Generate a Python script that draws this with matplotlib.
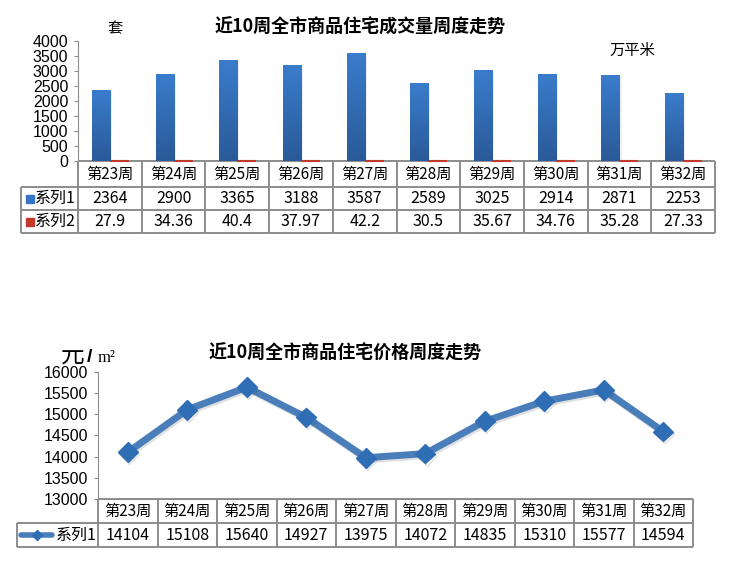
import matplotlib
matplotlib.use('Agg')
import matplotlib.pyplot as plt
from matplotlib import transforms
from matplotlib.patches import Rectangle
from matplotlib.colors import LinearSegmentedColormap
import matplotlib.patheffects as pe
import numpy as np

# ---------------- data ----------------
weeks = ['第23周', '第24周', '第25周', '第26周', '第27周',
         '第28周', '第29周', '第30周', '第31周', '第32周']
units = [2364, 2900, 3365, 3188, 3587, 2589, 3025, 2914, 2871, 2253]
area = [27.9, 34.36, 40.4, 37.97, 42.2, 30.5, 35.67, 34.76, 35.28, 27.33]
prices = [14104, 15108, 15640, 14927, 13975, 14072, 14835, 15310, 15577, 14594]
series_names = ['系列1', '系列2']
top_title = '近10周全市商品住宅成交量周度走势'
bottom_title = '近10周全市商品住宅价格周度走势'
top_ticks = list(range(0, 4001, 500))
bottom_ticks = list(range(13000, 16001, 500))

CJK = ['Noto Sans CJK SC', 'DejaVu Sans']
NUM = ['Liberation Sans', 'Noto Sans CJK SC', 'DejaVu Sans']
plt.rcParams['font.family'] = CJK

W, H = 735, 571
fig = plt.figure(figsize=(W / 100, H / 100), dpi=100)
fig.patch.set_facecolor('white')

GRID = '#8c8c8c'
BLUE = '#3674c4'
RED = '#c0392b'


def px_ax(left, top, right, bottom):
    return fig.add_axes([left / W, 1 - bottom / H, (right - left) / W, (bottom - top) / H])


def style_axis(ax, ticks, ylim):
    ax.set_xlim(-0.5, 9.5)
    ax.set_ylim(*ylim)
    ax.set_yticks(ticks)
    ax.set_xticks([])
    for s in ['top', 'right']:
        ax.spines[s].set_visible(False)
    ax.spines['left'].set_color(GRID)
    ax.spines['bottom'].set_color(GRID)
    ax.tick_params(axis='y', direction='out', length=3, color=GRID, pad=4,
                   labelsize=11.5)
    for lab in ax.get_yticklabels():
        lab.set_family(NUM)


def draw_table(ax, ax_h_px, cat_w_px, label_w_px, row_h_px, col_labels, rows, legend_kind):
    tr = transforms.blended_transform_factory(ax.transData, ax.transAxes)
    n = len(col_labels)
    label_left = -0.5 - label_w_px / cat_w_px
    ys = [0]
    for h in row_h_px:
        ys.append(ys[-1] - h / ax_h_px)
    kw = dict(transform=tr, clip_on=False, color=GRID, lw=1.4, solid_capstyle='butt',
              zorder=1.5)
    ax.plot([-0.5, n - 0.5], [ys[0], ys[0]], **kw)
    for y in ys[1:]:
        ax.plot([label_left, n - 0.5], [y, y], **kw)
    for k in range(n + 1):
        ax.plot([-0.5 + k, -0.5 + k], [ys[0], ys[-1]], **kw)
    ax.plot([label_left, label_left], [ys[1], ys[-1]], **kw)
    ymid = (ys[0] + ys[1]) / 2
    for i, c in enumerate(col_labels):
        ax.text(i, ymid, c, transform=tr, ha='center', va='center', fontsize=11,
                family=CJK, clip_on=False)
    for r, (name, vals, color) in enumerate(rows):
        ymid = (ys[r + 1] + ys[r + 2]) / 2
        for i, v in enumerate(vals):
            ax.text(i, ymid, str(v), transform=tr, ha='center', va='center',
                    fontsize=11.5, family=CJK, clip_on=False)
        if legend_kind == 'square':
            mx = -0.5 - (label_w_px - 9) / cat_w_px
            ax.plot([mx], [ymid], marker='s', ms=5.5, color=color, transform=tr,
                    clip_on=False, mec=color)
            tx = -0.5 - (label_w_px - 14) / cat_w_px
        else:
            x0 = -0.5 - (label_w_px - 4) / cat_w_px
            x1 = -0.5 - (label_w_px - 35) / cat_w_px
            ax.plot([x0, x1], [ymid, ymid], color='#4a7ebb', lw=4, transform=tr,
                    clip_on=False, solid_capstyle='round')
            ax.plot([(x0 + x1) / 2], [ymid], marker='D', ms=5, color='#2f6db5',
                    transform=tr, clip_on=False)
            tx = -0.5 - (label_w_px - 39) / cat_w_px
        ax.text(tx, ymid, name, transform=tr, ha='left', va='center', fontsize=11.5,
                family=CJK, clip_on=False)


# ---------------- top chart ----------------
ax1 = px_ax(78, 41, 715, 161)
x = np.arange(len(weeks))
bw = 0.283
b1 = ax1.bar(x - bw / 2, units, bw, color=BLUE, zorder=3,
             path_effects=[pe.SimplePatchShadow(offset=(1.5, -1), alpha=0.07), pe.Normal()])
b2 = ax1.bar(x + bw / 2, area, bw, color=RED, edgecolor=RED, linewidth=0.8, zorder=3,
             clip_on=False)
cmap = LinearSegmentedColormap.from_list('g', ['#2a5a98', '#3a7ccc'])
grad = np.linspace(0, 1, 100).reshape(-1, 1)
for bar in b1:
    x0, y0 = bar.get_xy()
    im = ax1.imshow(grad, extent=[x0, x0 + bar.get_width(), y0, y0 + bar.get_height()],
                    origin='lower', aspect='auto', cmap=cmap, zorder=3.5)
    im.set_clip_path(bar)
style_axis(ax1, top_ticks, (0, 4000))
ax1.spines['bottom'].set_visible(False)
draw_table(ax1, 120, 63.7, 57, [26, 23, 23], weeks,
           [(series_names[0], units, BLUE), (series_names[1], area, RED)], 'square')

fig.text(360 / W, 1 - 27 / H, top_title, ha='center', va='center', fontsize=13,
         fontweight='bold', family=CJK)
fig.text(115 / W, 1 - 29 / H, '套', ha='center', va='center', fontsize=11, family=CJK)
fig.text(632 / W, 1 - 50 / H, '万平米', ha='center', va='center', fontsize=11, family=CJK)

# ---------------- bottom chart ----------------
ax2 = px_ax(98, 372, 693, 499)
ax2.plot(x, prices, color='#4a7ebb', lw=5, marker='D', ms=10, mfc='#2f6db5', mec='#2f6db5',
         zorder=3, clip_on=False,
         path_effects=[pe.SimpleLineShadow(offset=(1, -1.5), alpha=0.12), pe.Normal()])
style_axis(ax2, bottom_ticks, (13000, 16000))
draw_table(ax2, 127, 59.5, 81, [24, 24], weeks, [(series_names[0], prices, None)], 'line')

fig.text(345 / W, 1 - 353 / H, bottom_title, ha='center', va='center', fontsize=13,
         fontweight='bold', family=CJK)
clip = Rectangle((0, 0), 1, 1 - 349 / H, transform=fig.transFigure)
t1 = fig.text(61 / W, 1 - 362 / H, '元', ha='left', va='baseline', fontsize=17,
              family=CJK)
t1.set_clip_path(clip)
t2 = fig.text(87 / W, 1 - 362 / H, '/', ha='left', va='baseline', fontsize=14,
              family=NUM, fontweight='bold')
t2.set_clip_path(clip)
fig.text(98 / W, 1 - 362 / H, 'm²', ha='left', va='baseline', fontsize=12,
         family=['Liberation Serif', 'DejaVu Serif'])

fig.savefig('out.png', dpi=100, facecolor='white')
